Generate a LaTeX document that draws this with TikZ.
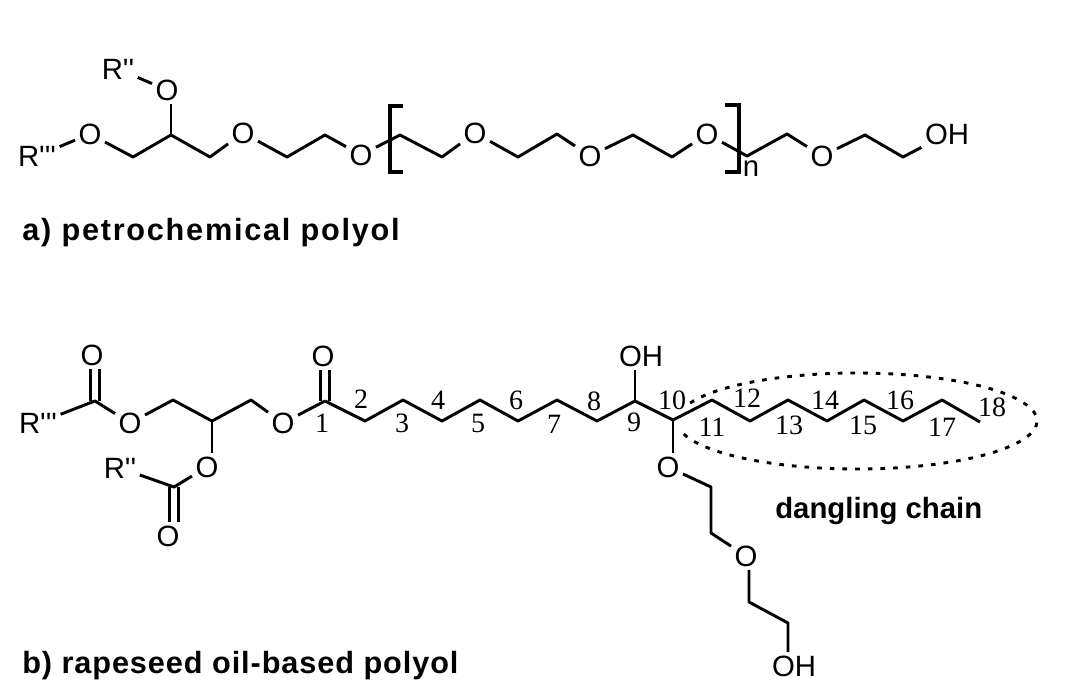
\documentclass[tikz,border=0pt]{standalone}
\usepackage{fontspec}
\newfontfamily\atomfont{Liberation Sans}
\newfontfamily\captionfont[LetterSpace=3]{Liberation Sans}
\newfontfamily\widefont[LetterSpace=5.7]{Liberation Sans}
\newfontfamily\numfont{Liberation Serif}
\tikzset{
	bond/.style = {line width = 2.2pt, line join = round},
	dbond/.style = {line width = 2.2pt, double, double distance = 4.4pt},
	brack/.style = {line width = 2.6pt},
	atom/.style = {inner sep = 2.5pt, font = \atomfont\fontsize{22}{22}\selectfont},
	num/.style = {inner sep = 0pt, font = \numfont\fontsize{21}{21}\selectfont},
	caption/.style = {anchor = base west, inner sep = 0pt, font = \captionfont\bfseries\fontsize{23}{23}\selectfont},
}
\begin{document}
\begin{tikzpicture}[x = 0.75pt, y = -0.75pt]

	\useasboundingbox (0, 0) rectangle (1066, 688);

	% Atoms, top molecule

	\foreach \N/\X/\Y in {oA/90/134, oB/167/90, oC/243/133, oD/361/155, oE/475/133, oF/590/156, oG/707/134, oH/822/156}
		\node [atom] (\N) at (\X, \Y) {O};

	\node [atom] (rTopA) at (37, 156) {R'''};
	\node [atom] (rTopB) at (118, 69) {R''};
	\node [atom] (ohTop) at (947, 134) {OH};
	\node [atom] (idxN) at (751, 169) {n};

	% Carbons, top molecule

	\foreach \N/\X/\Y in {tA/133/157, tB/171/135, tC/210/157, tD/287/157, tE/325/135, tF/400/135, tG/442/157, tH/518/157, tI/557/134, tJ/633/135, tK/672/157, tL/747/156, tM/787/134, tN/865/135, tO/903/157}
		\coordinate (\N) at (\X, \Y);

	% Bonds, top molecule

	\draw [bond] (rTopA) -- (oA) -- (tA) -- (tB) -- (tC) -- (oC) -- (tD) -- (tE) -- (oD) -- (tF) -- (tG) -- (oE) -- (tH) -- (tI) -- (oF) -- (tJ) -- (tK) -- (oG);
	\draw [bond] (oG) -- (tL) -- (tM) -- (oH) -- (tN) -- (tO) -- (ohTop);
	\draw [bond] (tB) -- (tB |- oB.south);
	\draw [bond] (oB) -- (rTopB);

	% Repeat unit brackets

	\draw [brack, line width = 3pt] (403, 106) -- (390, 106) -- (390, 172) -- (403, 172);
	\draw [brack] (725, 105) -- (739, 105) -- (739, 172) -- (725, 172);

	\node [caption, font = \widefont\bfseries\fontsize{23}{23}\selectfont] (capA) at (22, 240) {a) petrochemical polyol};

	% Atoms, bottom molecule

	\foreach \N/\X/\Y in {pA/92/355, pB/130/423, pC/283/423, pD/323/356, pE/207/467, pF/168/536, pG/668/467, pH/746/556}
		\node [atom] (\N) at (\X, \Y) {O};

	\node [atom] (rBotA) at (38, 423) {R'''};
	\node [atom] (rBotB) at (120, 468) {R''};
	\node [atom] (ohMid) at (641, 356) {OH};
	\node [atom] (ohBot) at (794, 666) {OH};

	% Carbons, bottom molecule

	\foreach \N/\X/\Y in {gA/95/401, gB/173/400, gC/212/421, gD/251/400, gE/174/487, eA/711/487, eB/711/533, eC/749/602, eD/788/623}
		\coordinate (\N) at (\X, \Y);

	\foreach \N/\X/\Y in {1/325/401, 2/365/421, 3/403/400, 4/442/421, 5/480/400, 6/518/421, 7/557/400, 8/597/421, 9/635/401, 10/673/420, 11/712/400, 12/750/421, 13/788/400, 14/827/421, 15/864/400, 16/903/421, 17/942/400, 18/980/422}
		\coordinate (c\N) at (\X, \Y);

	% Carbon numbers

	\foreach \N/\X/\Y in {1/322/423, 2/361/399, 3/402/423, 4/438/400, 5/478/423, 6/516/400, 7/554/424, 8/594/401, 9/634/422, 10/672/400, 11/712/427, 12/747/398, 13/789/425, 14/825/400, 15/863/425, 16/900/400, 17/942/427, 18/992/407}
		\node [num] (l\N) at (\X, \Y) {\N};

	% Carbonyls first, their white core must stay under the chain

	\draw [dbond] (gA) -- (gA |- pA.south);
	\draw [dbond] (c1) -- (c1 |- pD.south);
	\draw [dbond] (gE) -- (gE |- pF.north);

	% Bonds, bottom molecule

	\draw [bond] (rBotA) -- (gA) -- (pB) -- (gB) -- (gC) -- (gD) -- (pC) -- (c1);
	\draw [bond] (c1) \foreach \N in {2, ..., 18} { -- (c\N) };
	\draw [bond] (gC) -- (gC |- pE.north);
	\draw [bond] (pE) -- (gE) -- (rBotB);
	\draw [bond] (c9) -- (c9 |- ohMid.south);
	\draw [bond] (c10) -- (c10 |- pG.north);
	\draw [bond] (pG) -- (eA) -- (eB) -- (pH);
	\draw [bond] (eC |- pH.south) -- (eC) -- (eD) -- (eD |- ohBot.north);

	% Dangling chain

	\draw [line width = 2.2pt, dash pattern = on 3.5pt off 6pt] ([shift = {(158 : 135pt and 36pt)}] 857, 421) arc [start angle = 158, end angle = -169, x radius = 135pt, y radius = 36pt];

	\node [anchor = base west, inner sep = 0pt, font = \atomfont\bfseries\fontsize{22}{22}\selectfont] (capChain) at (775, 518) {dangling chain};

	\node [caption] (capB) at (22, 673) {b) rapeseed oil-based polyol};

\end{tikzpicture}
\end{document}
